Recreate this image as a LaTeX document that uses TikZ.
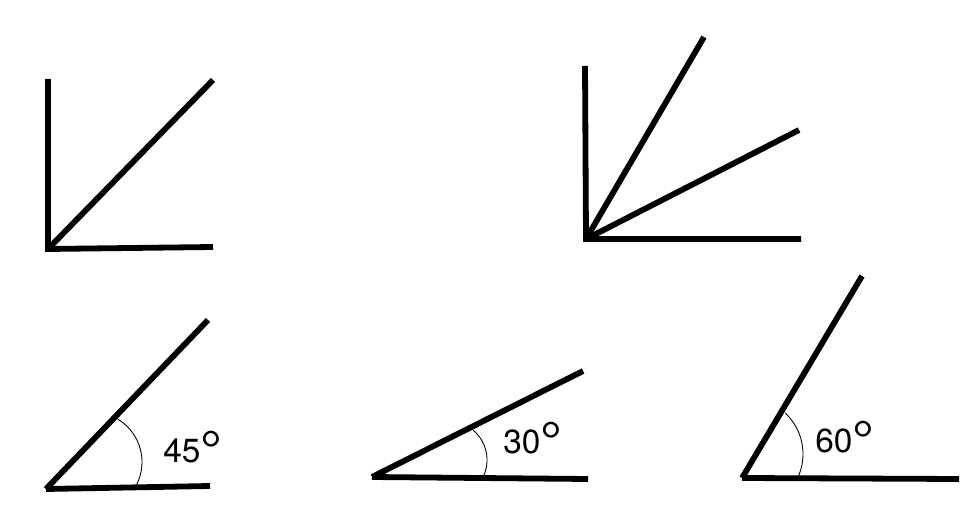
\documentclass[tikz,border=0pt]{standalone}
\usepackage{fontspec}
\setmainfont{TeX Gyre Heros}
\newcommand{\grado}{\raisebox{-3.5pt}{\fontsize{31}{31}\selectfont °}}

\begin{document}
\begin{tikzpicture}[
    recta/.style={black, line width=3.3pt},
    arco/.style={black, line width=0.5pt},
    etiqueta/.style={anchor=base west, inner sep=0pt, font=\fontsize{19}{21}\selectfont}
  ]
  \useasboundingbox (0,0) rectangle (19.44,10.08);

  % Ángulo recto con bisectriz
  \draw[recta] (0.96,8.50) -- (0.96,5.10) -- (4.26,5.14);
  \draw[recta] (0.96,5.10) -- (4.26,8.48);

  % Ángulo recto en tres partes
  \draw[recta] (11.70,8.76) -- (11.72,5.30) -- (16.02,5.30);
  \draw[recta] (11.72,5.30) -- (14.08,9.34);
  \draw[recta] (11.72,5.30) -- (15.98,7.48);

  % Ángulo de 45
  \draw[recta] (0.92,0.30) -- (4.16,3.68);
  \draw[recta] (0.92,0.30) -- (4.20,0.36);
  \draw[arco] (1.84,0.84) ++(59:1.0) arc (59:-32:1.0);
  \node[etiqueta] (n45) at (3.26,0.82) {45\grado};

  % Ángulo de 30
  \draw[recta] (7.44,0.54) -- (11.66,2.66);
  \draw[recta] (7.44,0.54) -- (11.76,0.50);
  \draw[arco] (8.96,0.88) ++(50:0.78) arc (50:-26:0.78);
  \node[etiqueta] (n30) at (10.06,1.00) {30\grado};

  % Ángulo de 60
  \draw[recta] (14.84,0.52) -- (17.24,4.56);
  \draw[recta] (14.84,0.52) -- (19.18,0.50);
  \draw[arco] (14.94,1.00) ++(47:1.12) arc (47:-24:1.12);
  \node[etiqueta] (n60) at (16.30,1.02) {60\grado};
\end{tikzpicture}
\end{document}
